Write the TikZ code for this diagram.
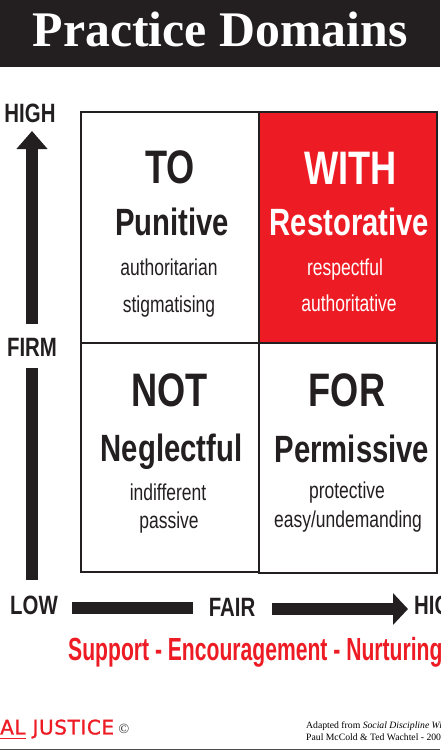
\documentclass[tikz,border=0pt]{standalone}
\usepackage{fontspec}
\setmainfont{Liberation Serif}
\newfontfamily\narrowb[FakeStretch=0.77]{Liberation Sans Bold}
\newfontfamily\narrowc[FakeStretch=0.66]{Liberation Sans Bold}
\newfontfamily\narrowr[FakeStretch=0.76]{Liberation Sans}
\newfontfamily\widef[FakeBold=1.2,LetterSpace=3]{DejaVu Sans}
\usetikzlibrary{arrows.meta}
\definecolor{inkdark}{HTML}{231F20}
\definecolor{redfill}{HTML}{ED1C24}
\tikzset{
  cellbox/.style={draw=inkdark,line width=1.6pt,fill=white,outer sep=0pt,inner sep=0pt,anchor=north west,minimum width=178pt},
  big/.style={font=\narrowb\fontsize{47}{47}\selectfont,text=inkdark,inner sep=0pt},
  mid/.style={font=\narrowb\fontsize{38}{38}\selectfont,text=inkdark,inner sep=0pt},
  small/.style={font=\narrowr\fontsize{23}{23}\selectfont,text=inkdark,inner sep=0pt},
  axis/.style={font=\narrowb\fontsize{26.5}{26.5}\selectfont,text=inkdark,inner sep=0pt},
  bar/.style={line width=12.5pt,draw=inkdark},
  arrowup/.style={line width=12.5pt,draw=inkdark,-{Triangle[length=18pt,width=30pt]}},
  arrowbar/.style={line width=12.5pt,draw=inkdark,-{Triangle[length=15pt,width=31pt]}},
  foot/.style={font=\fontsize{9.7}{9.7}\selectfont,text=black,inner sep=0pt,anchor=west}
}
\begin{document}
\begin{tikzpicture}[x=1pt,y=-1pt]
\useasboundingbox (0,0) rectangle (440,750);
\clip (0,0) rectangle (440,750);
\fill[inkdark] (0,0) rectangle (440,67);
\node[font=\bfseries\fontsize{49.8}{50}\selectfont,text=white,inner sep=0pt] (title) at (220,29) {Practice Domains};
% grid
\node[cellbox,minimum height=231pt] (c1) at (81,112) {};
\node[cellbox,fill=redfill,minimum height=231pt] (c2) at (259,112) {};
\node[cellbox,minimum height=229pt] (c3) at (81,343) {};
\node[cellbox,minimum height=230pt] (c4) at (259,343) {};
% cell text
\node[big] (to) at (170,167) {TO};
\node[mid] (pun) at (172,222) {Punitive};
\node[small] (auth) at (169,267) {authoritarian};
\node[small] (stig) at (169,307) {stigmatising};
\node[big,text=white] (with) at (350.5,168) {WITH};
\node[mid,text=white] (res) at (349.5,222) {Restorative};
\node[small,text=white] (resp) at (345,270) {respectful};
\node[small,text=white] (autv) at (349,303) {authoritative};
\node[big] (not) at (169.5,390) {NOT};
\node[mid] (neg) at (171.5,452) {Neglectful};
\node[small] (ind) at (168,492) {indifferent};
\node[small] (pas) at (169,523) {passive};
\node[big] (for) at (347,390) {FOR};
\node[mid] (per) at (352,449) {Permissive};
\node[small] (pro) at (347,493) {protective};
\node[small] (easy) at (348,522) {easy/undemanding};
% axes
\node[axis] (high) at (30,113) {HIGH};
\node[axis] (firm) at (32,347) {FIRM};
\node[axis] (low) at (34,605) {LOW};
\node[axis] (fair) at (232,607) {FAIR};
\node[axis,anchor=west] (hig) at (414,605) {HIGH};
\coordinate (a1) at (32,580);
\coordinate (a2) at (32,368);
\coordinate (a3) at (32,324);
\coordinate (a4) at (32,131);
\draw[bar] (a1) -- (a2);
\draw[arrowup] (a3) -- (a4);
\coordinate (b1) at (72,608);
\coordinate (b2) at (193,608);
\coordinate (b3) at (272,609);
\coordinate (b4) at (408,609);
\draw[bar] (b1) -- (b2);
\draw[arrowbar] (b3) -- (b4);
\node[font=\narrowc\fontsize{32}{32}\selectfont,text=redfill,inner sep=0pt,anchor=west] (sup) at (68,652) {Support - Encouragement - Nurturing};
% footer
\node[font=\widef\fontsize{20}{20}\selectfont,text=redfill,inner sep=0pt,anchor=west] (just) at (0,729) {AL JUSTICE};
\draw[redfill,line width=1pt] (0,738) -- (26,738);
\node[font=\fontsize{14}{14}\selectfont,text=inkdark,inner sep=0pt] (copy) at (124,729) {©};
\node[foot] (ad1) at (306,726) {Adapted from \textit{Social Discipline Window}};
\node[foot] (ad2) at (306,737) {Paul McCold \& Ted Wachtel - 2000};
\draw[inkdark!80,line width=1pt] (0,749.5) -- (440,749.5);
\end{tikzpicture}
\end{document}
